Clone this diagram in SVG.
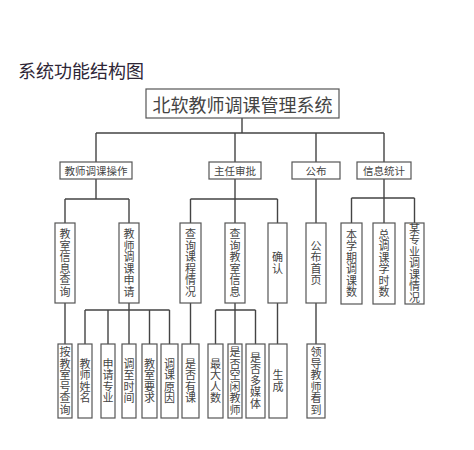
<svg xmlns="http://www.w3.org/2000/svg" width="474" height="450" viewBox="0 0 474 450">
<style>
.box{fill:#fff;stroke:#555;stroke-width:1.2}
.ln{fill:none;stroke:#444;stroke-width:1.4}
.t{font-family:"Noto Sans CJK SC","Noto Sans CJK JP",sans-serif;fill:#444;text-anchor:middle;dominant-baseline:central}
.v{font-size:11px;writing-mode:vertical-rl;letter-spacing:0.5px}
.h2{font-size:10.5px}
</style>
<rect width="474" height="450" fill="#fff"/>
<text x="18" y="78" font-family="Noto Sans CJK SC, sans-serif" font-size="18" fill="#2e2636">系统功能结构图</text>

<g id="connectors" class="ln">
<path d="M242,118V133M96,133H384M96,133V162M235,133V162M316,133V162M384,133V162"/>
<path d="M96,179V199M65,199H129M65,199V223M129,199V223"/>
<path d="M235,179V199M190.5,199H277.5M190.5,199V223M235,199V223M277.5,199V223"/>
<path d="M316,179V223"/>
<path d="M384,179V198M351.5,198H414.5M351.5,198V223M384,198V223M414.5,198V223"/>
<path d="M65,303V344"/>
<path d="M129,303V310M85,310H169.5M85,310V344M108,310V344M129,310V344M149.5,310V344M169.5,310V344"/>
<path d="M190.5,303V344"/>
<path d="M235,303V310M215.5,310H255.5M215.5,310V344M235,310V344M255.5,310V344"/>
<path d="M277.5,303V344"/>
<path d="M316,303V344"/>
</g>

<g id="root"><rect class="box" x="146" y="89" width="193" height="29"/><text class="t" x="242.5" y="104" font-size="18">北软教师调课管理系统</text></g>

<g id="n-czcz"><rect class="box" x="60" y="162" width="72" height="17"/><text class="t h2" x="96" y="170.5">教师调课操作</text></g>
<g id="n-zrsp"><rect class="box" x="209" y="162" width="52" height="17"/><text class="t h2" x="235" y="170.5">主任审批</text></g>
<g id="n-gb"><rect class="box" x="292" y="162" width="48" height="17"/><text class="t h2" x="316" y="170.5">公布</text></g>
<g id="n-xxtj"><rect class="box" x="357" y="162" width="54" height="17"/><text class="t h2" x="384" y="170.5">信息统计</text></g>

<g id="n-jsxxcx"><rect class="box" x="55" y="223" width="20" height="80"/><text class="t v" x="65" y="263">教室信息查询</text></g>
<g id="n-jstksq"><rect class="box" x="119" y="223" width="20" height="80"/><text class="t v" x="129" y="263">教师调课申请</text></g>
<g id="n-cxkcqk"><rect class="box" x="180" y="223" width="21" height="80"/><text class="t v" x="190.5" y="263">查询课程情况</text></g>
<g id="n-cxjsxx"><rect class="box" x="225" y="223" width="20" height="80"/><text class="t v" x="235" y="263">查询教室信息</text></g>
<g id="n-qr"><rect class="box" x="268" y="223" width="19" height="80"/><text class="t v" x="277.5" y="263">确认</text></g>
<g id="n-gbsy"><rect class="box" x="306" y="223" width="20" height="80"/><text class="t v" x="316" y="263">公布首页</text></g>
<g id="n-bxqtks"><rect class="box" x="341" y="223" width="21" height="81"/><text class="t v" x="351.5" y="263.5">本学期调课数</text></g>
<g id="n-ztkxss"><rect class="box" x="373" y="223" width="22" height="81"/><text class="t v" x="384" y="263.5">总调课学时数</text></g>
<g id="n-mzytkqk"><rect class="box" x="405" y="223" width="19" height="81"/><text class="t v" x="414.5" y="263.5">某专业调课情况</text></g>

<g id="n-ajshcx"><rect class="box" x="58" y="344" width="14" height="74"/><text class="t v" x="65" y="381">按教室号查询</text></g>
<g id="n-jsxm"><rect class="box" x="78" y="344" width="14" height="74"/><text class="t v" x="85" y="381">教师姓名</text></g>
<g id="n-sqzy"><rect class="box" x="101" y="344" width="14" height="74"/><text class="t v" x="108" y="381">申请专业</text></g>
<g id="n-tzsj"><rect class="box" x="122" y="344" width="14" height="74"/><text class="t v" x="129" y="381">调至时间</text></g>
<g id="n-jsyq"><rect class="box" x="142" y="344" width="15" height="74"/><text class="t v" x="149.5" y="381">教室要求</text></g>
<g id="n-tkyy"><rect class="box" x="161" y="344" width="17" height="74"/><text class="t v" x="169.5" y="381">调课原因</text></g>
<g id="n-sfyk"><rect class="box" x="182" y="344" width="17" height="74"/><text class="t v" x="190.5" y="381">是否有课</text></g>
<g id="n-zdrs"><rect class="box" x="208" y="344" width="15" height="74"/><text class="t v" x="215.5" y="381">最大人数</text></g>
<g id="n-sfkxjs"><rect class="box" x="228" y="344" width="14" height="74"/><text class="t v" x="235" y="381">是否空闲教师</text></g>
<g id="n-sfdmt"><rect class="box" x="246" y="344" width="19" height="74"/><text class="t v" x="255.5" y="381">是否多媒体</text></g>
<g id="n-sc"><rect class="box" x="269" y="344" width="18" height="74"/><text class="t v" x="278" y="381">生成</text></g>
<g id="n-ldjskd"><rect class="box" x="307" y="344" width="18" height="74"/><text class="t v" x="316" y="381">领导教师看到</text></g>
</svg>
